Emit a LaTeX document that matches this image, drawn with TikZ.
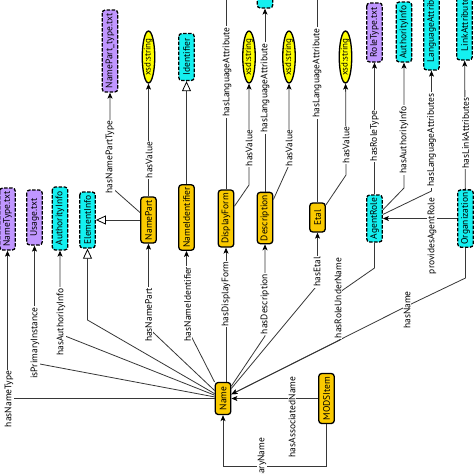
\documentclass[tikz,border=0pt]{standalone}
\usepackage{fontspec}
\setmainfont{PT Sans}
\usetikzlibrary{arrows.meta,shapes.geometric}
\definecolor{yel}{RGB}{250,202,0}
\definecolor{cyn}{RGB}{20,240,240}
\definecolor{pur}{RGB}{192,150,255}
\definecolor{xyel}{RGB}{255,255,0}
\definecolor{edgec}{RGB}{55,55,55}
\begin{document}
\begin{tikzpicture}[x=1pt,y=1pt,
  box/.style={draw=black, rotate=90, rounded corners=3pt, line width=1.3pt, inner xsep=2.5pt, inner ysep=1.5pt, font=\fontsize{9.5}{10}\selectfont, minimum height=15.5pt},
  ybox/.style={box, fill=yel},
  cbox/.style={box, fill=cyn, dash pattern=on 3.5pt off 1.5pt},
  pbox/.style={box, fill=pur, dash pattern=on 3.5pt off 1.5pt},
  xsd/.style={ellipse, draw=black, line width=1.3pt, fill=xyel, rotate=90, inner xsep=-7pt, inner ysep=-2pt, minimum height=12.5pt, minimum width=52pt, font=\fontsize{9}{10}\selectfont},
  lbl/.style={fill=white, rotate=90, inner sep=1pt, font=\fontsize{9.5}{10}\selectfont},
  con/.style={draw=edgec, line width=0.8pt},
  arr/.style={con, -{Stealth[length=6pt,width=5pt,inset=1.5pt,black]}},
  gen/.style={con, -{Triangle[open,length=10pt,width=9pt,fill=white,black]}}
]
\useasboundingbox (0,0) rectangle (474,-474);
\fill[white] (0,0) rectangle (474,-474);
\clip (0,0) rectangle (474,-474);

% ---------- nodes ----------
\node[pbox, minimum width=82pt] (NPT) at (110,-51) {NamePart\_type.txt};
\node[xsd] (X1) at (148.5,-57) {xsd:string};
\node[cbox, minimum width=47pt] (Ident) at (186.5,-57) {Identifier};
\node[xsd] (X2) at (249,-57) {xsd:string};
\node[cbox, minimum width=90pt] (LangTop) at (265,37) {LanguageAttribute};
\node[xsd] (X3) at (289,-57) {xsd:string};
\node[xsd] (X4) at (345.5,-57) {xsd:string};
\node[pbox, minimum width=59pt] (RoleType) at (374.5,-32.5) {RoleType.txt};
\node[cbox, minimum width=60pt] (AuthR) at (404,-32) {AuthorityInfo};
\node[cbox, minimum width=95pt] (LangAttr) at (431.5,-22.5) {LanguageAttributes};
\node[cbox, minimum width=75pt] (LinkAttr) at (464.5,-22.5) {LinkAttributes};

\node[pbox, minimum width=62pt] (NameType) at (7.5,-219) {NameType.txt};
\node[pbox, minimum width=55pt] (Usage) at (34.5,-217.5) {Usage.txt};
\node[cbox, minimum width=63pt] (AuthL) at (60,-218.5) {AuthorityInfo};
\node[cbox, minimum width=56pt] (Elem) at (87.5,-220) {ElementInfo};
\node[ybox, minimum width=46pt] (NamePart) at (148.5,-220) {NamePart};
\node[ybox, minimum width=65pt] (NameId) at (186.5,-217.5) {NameIdentifier};
\node[ybox, minimum width=57pt] (Disp) at (226,-218.5) {DisplayForm};
\node[ybox, minimum width=50pt] (Desc) at (265,-218) {Description};
\node[ybox, minimum width=29pt] (Etal) at (317.5,-217.5) {Etal};
\node[cbox, minimum width=47pt] (Agent) at (374.5,-218.5) {AgentRole};
\node[cbox, minimum width=57pt] (Org) at (465.5,-218.5) {Organization};
\node[ybox, minimum width=32pt] (Name) at (223,-398.5) {Name};
\node[ybox, minimum width=50pt] (MODS) at (326.5,-398.5) {MODSItem};

\coordinate (topA) at (226,5);
\coordinate (topB) at (317.5,5);

% ---------- connectors ----------
\draw[arr] (NamePart) -- (110,-186) -- (NPT);
\draw[arr] (NamePart) -- (X1);
\draw[gen] (NameId) -- (Ident);
\draw[gen] (NamePart) -- (Elem);
\draw[arr] (Disp) -- (249,-185) -- (X2);
\draw[con] (Disp) -- (topA);
\draw[arr] (Desc) -- (LangTop);
\draw[arr] (Desc) -- (289,-165) -- (X3);
\draw[con] (Etal) -- (topB);
\draw[arr] (Etal) -- (346,-175) -- (X4);
\draw[arr] (Agent) -- (RoleType);
\draw[arr] (Agent) -- (404,-188) -- (AuthR);
\draw[arr] (Agent) -- (431.5,-191) -- (LangAttr);
\draw[arr] (Org) -- (LinkAttr);
\draw[arr] (Org) -- (Agent);

\draw[arr] (Name) -- (7.5,-398.5) -- (NameType);
\draw[arr] (Name) -- (34.5,-363) -- (Usage);
\draw[arr] (Name) -- (60,-334) -- (AuthL);
\draw[gen] (Name) -- (87.5,-320) -- (Elem);
\draw[arr] (Name) -- (148.5,-328) -- (NamePart);
\draw[arr] (Name) -- (186.5,-327) -- (NameId);
\draw[arr] (Disp.west |- Name.east) -- (Disp.west);
\draw[arr] (Name) -- (265,-336) -- (Desc);
\draw[arr] (Name) -- (317.5,-285) -- (Etal);
\draw[arr] (Agent) -- (374.5,-268) -- (340,-292) -- (340,-340) -- (Name);
\draw[arr] (Org) -- (465.5,-278) -- (407,-306) -- (Name);
\draw[arr] (MODS) -- (Name);
\draw[arr] (MODS) -- (326.5,-466) -- (223,-466) -- (Name);

% ---------- labels ----------
\node[lbl] (l1) at (110,-157) {hasNamePartType};
\node[lbl] (l2) at (149,-160) {hasValue};
\node[lbl] (l3) at (227,-72) {hasLanguageAttribute};
\node[lbl] (l4) at (249,-148) {hasValue};
\node[lbl] (l5) at (265,-88) {hasLanguageAttribute};
\node[lbl] (l6) at (289,-148) {hasValue};
\node[lbl] (l7) at (317,-73) {hasLanguageAttribute};
\node[lbl] (l8) at (346,-145) {hasValue};
\node[lbl] (l9) at (374.5,-136) {hasRoleType};
\node[lbl] (l10) at (404,-140) {hasAuthorityInfo};
\node[lbl] (l11) at (431.5,-140) {hasLanguageAttributes};
\node[lbl] (l12) at (465.5,-133) {hasLinkAttributes};
\node[lbl] (l13) at (432,-236) {providesAgentRole};
\node[lbl] (l14) at (9,-399) {hasNameType};
\node[lbl] (l15) at (35,-343) {isPrimaryInstance};
\node[lbl] (l16) at (61,-322) {hasAuthorityInfo};
\node[lbl] (l17) at (148.5,-315) {hasNamePart};
\node[lbl] (l18) at (187.5,-304) {hasNameIdentifier};
\node[lbl] (l19) at (226,-294) {hasDisplayForm};
\node[lbl] (l20) at (265,-304) {hasDescription};
\node[lbl] (l21) at (317,-272) {hasEtal};
\node[lbl] (l22) at (338,-298) {hasRoleUnderName};
\node[lbl] (l23) at (407,-310) {hasName};
\node[lbl] (l24) at (292,-417) {hasAssociatedName};
\node[lbl] (l25) at (262,-472) {hasPrimaryName};
\end{tikzpicture}
\end{document}
